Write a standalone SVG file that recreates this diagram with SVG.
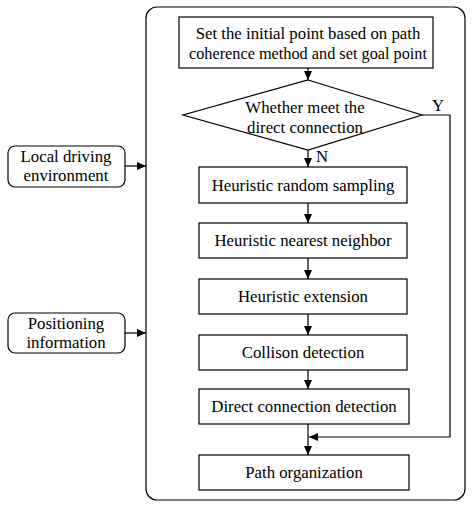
<svg xmlns="http://www.w3.org/2000/svg" width="474" height="507" viewBox="0 0 474 507">
<defs>
<marker id="ah" markerWidth="10" markerHeight="10" refX="9" refY="5" orient="auto" markerUnits="userSpaceOnUse">
<path d="M0,1 L9,5 L0,9 Z" fill="#000"/>
</marker>
<style>
.b{fill:#fff;stroke:#000;stroke-width:1.2}
.c{fill:none;stroke:#000;stroke-width:1.2}
text{font-family:"Liberation Serif","DejaVu Serif",serif;font-size:16.8px;fill:#000;text-anchor:middle}
</style>
</defs>
<rect width="474" height="507" fill="#fff"/>
<g id="frame"><rect class="b" x="146" y="7" width="319" height="493" rx="11"/></g>
<g id="connectors">
<line class="c" x1="308" y1="68" x2="308" y2="80" marker-end="url(#ah)"/>
<line class="c" x1="308" y1="150" x2="308" y2="167" marker-end="url(#ah)"/>
<line class="c" x1="308" y1="203" x2="308" y2="223" marker-end="url(#ah)"/>
<line class="c" x1="308" y1="258" x2="308" y2="279" marker-end="url(#ah)"/>
<line class="c" x1="308" y1="314" x2="308" y2="335" marker-end="url(#ah)"/>
<line class="c" x1="308" y1="370" x2="308" y2="389" marker-end="url(#ah)"/>
<line class="c" x1="308" y1="424" x2="308" y2="455" marker-end="url(#ah)"/>
<polyline class="c" points="422,115 450,115 450,437 309,437" marker-end="url(#ah)"/>
<line class="c" x1="125" y1="166" x2="146" y2="166" marker-end="url(#ah)"/>
<line class="c" x1="125" y1="333" x2="146" y2="333" marker-end="url(#ah)"/>
<text x="438" y="111">Y</text>
<text x="322" y="162">N</text>
</g>
<g id="n1"><rect class="b" x="179" y="17" width="254" height="51"/>
<text x="308" y="39">Set the initial point based on path</text>
<text x="308" y="59" textLength="238" lengthAdjust="spacingAndGlyphs">coherence method and set goal point</text></g>
<g id="n2"><polygon class="b" points="308,80 422,115 308,150 183,115"/>
<text x="305" y="113">Whether meet the</text>
<text x="305" y="133">direct connection</text></g>
<g id="n3"><rect class="b" x="199" y="167" width="208" height="36"/><text x="303" y="191">Heuristic random sampling</text></g>
<g id="n4"><rect class="b" x="199" y="223" width="208" height="35"/><text x="303" y="246">Heuristic nearest neighbor</text></g>
<g id="n5"><rect class="b" x="199" y="279" width="208" height="35"/><text x="303" y="302">Heuristic extension</text></g>
<g id="n6"><rect class="b" x="199" y="335" width="208" height="35"/><text x="303" y="358">Collison detection</text></g>
<g id="n7"><rect class="b" x="199" y="389" width="210" height="35"/><text x="304" y="412">Direct connection detection</text></g>
<g id="n8"><rect class="b" x="199" y="455" width="210" height="35"/><text x="304" y="478">Path organization</text></g>
<g id="n9"><rect class="b" x="8" y="146" width="117" height="41" rx="7"/>
<text x="66" y="162">Local driving</text><text x="66" y="181">environment</text></g>
<g id="n10"><rect class="b" x="8" y="313" width="117" height="40" rx="7"/>
<text x="66" y="329">Positioning</text><text x="66" y="348">information</text></g>
</svg>
